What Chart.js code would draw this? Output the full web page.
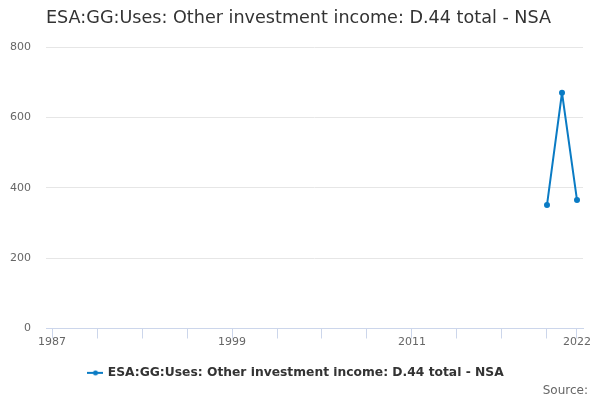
<!DOCTYPE html>
<html>
<head>
<meta charset="utf-8">
<style>
  html, body { margin: 0; padding: 0; background: #fff; }
  #wrap { width: 600px; height: 400px; }
</style>
</head>
<body>
<div id="wrap"><canvas id="chart"></canvas></div>
<script src="https://cdn.jsdelivr.net/npm/chart.js"></script>
<script>
  // series
  const years = [2020, 2021, 2022];
  const values = [351, 670, 365];
  const tickYears = [1987, 1990, 1993, 1996, 1999, 2002, 2005, 2008, 2011, 2014, 2017, 2020, 2022];
  const labelYears = [1987, 1999, 2011, 2022];
  const yTicks = [0, 200, 400, 600, 800];

  const titleText = 'ESA:GG:Uses: Other investment income: D.44 total - NSA';
  const lineColor = '#0a7bc4';
  const fontFamily = '"DejaVu Sans", sans-serif';

  // small legend marker: line with a dot in the middle
  const marker = document.createElement('canvas');
  marker.width = 16; marker.height = 6;
  const mctx = marker.getContext('2d');
  mctx.strokeStyle = lineColor; mctx.lineWidth = 2;
  mctx.beginPath(); mctx.moveTo(0, 3); mctx.lineTo(16, 3); mctx.stroke();
  mctx.fillStyle = lineColor;
  mctx.beginPath(); mctx.arc(8, 3, 2.5, 0, Math.PI * 2); mctx.fill();

  // title top-left over the plot, "Source:" bottom-right
  const headerFooter = {
    id: 'headerFooter',
    afterDraw(chart) {
      const ctx = chart.ctx;
      ctx.save();
      ctx.textBaseline = 'middle';
      ctx.fillStyle = '#333333';
      ctx.font = '17.6px ' + fontFamily;
      ctx.textAlign = 'left';
      ctx.fillText(titleText, chart.chartArea.left, 18);
      ctx.fillStyle = '#666666';
      ctx.font = '12px ' + fontFamily;
      ctx.textAlign = 'right';
      ctx.fillText('Source:', 588, 391);
      ctx.restore();
    }
  };

  Chart.defaults.font.family = fontFamily;

  new Chart(document.getElementById('chart'), {
    type: 'line',
    data: {
      datasets: [{
        label: titleText,
        data: years.map((y, i) => ({ x: y, y: values[i] })),
        borderColor: lineColor,
        backgroundColor: lineColor,
        borderWidth: 2,
        borderJoinStyle: 'round',
        pointRadius: 2,
        pointHoverRadius: 3,
        tension: 0
      }]
    },
    options: {
      responsive: true,
      maintainAspectRatio: false,
      animation: false,
      layout: { padding: { left: 10, right: 17, top: 47, bottom: 11 } },
      plugins: {
        title: { display: false },
        legend: {
          position: 'bottom',
          labels: {
            color: '#333333',
            font: { size: 12.3, weight: 'bold' },
            usePointStyle: true,
            pointStyle: marker,
            padding: 21
          }
        },
        tooltip: { enabled: false }
      },
      scales: {
        x: {
          type: 'linear',
          min: 1986.6,
          max: 2022.4,
          afterBuildTicks: (axis) => { axis.ticks = tickYears.map(v => ({ value: v })); },
          grid: {
            drawOnChartArea: false,
            drawTicks: true,
            tickLength: 10,
            color: '#ccd6eb'
          },
          border: { color: '#ccd6eb', width: 1 },
          ticks: {
            autoSkip: false,
            maxRotation: 0,
            color: '#666666',
            font: { size: 11 },
            padding: -3,
            callback: (v) => labelYears.includes(v) ? String(v) : ''
          }
        },
        y: {
          min: 0,
          max: 800,
          afterBuildTicks: (axis) => { axis.ticks = yTicks.map(v => ({ value: v })); },
          afterFit: (axis) => { axis.width = 36; },
          grid: { color: '#e6e6e6', drawTicks: false },
          border: { display: false },
          ticks: {
            color: '#666666',
            font: { size: 11 },
            padding: 15
          }
        }
      }
    },
    plugins: [headerFooter]
  });
</script>
</body>
</html>
